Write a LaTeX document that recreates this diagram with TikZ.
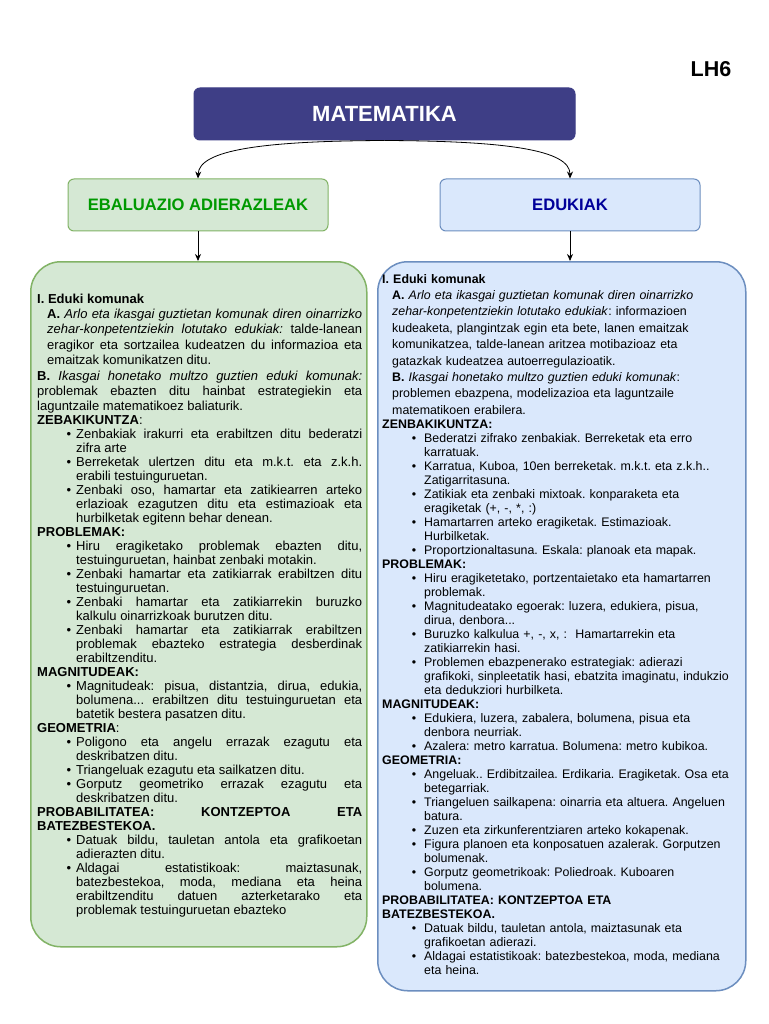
\documentclass[tikz,border=0pt]{standalone}
\usepackage{fontspec}
\setmainfont{Liberation Sans}
\usetikzlibrary{arrows.meta}
\definecolor{matfill}{RGB}{62,62,134}
\definecolor{gfill}{HTML}{D5E8D4}
\definecolor{gline}{HTML}{82B366}
\definecolor{bfill}{HTML}{DAE8FC}
\definecolor{bline}{HTML}{6C8EBF}
\definecolor{gtext}{HTML}{009900}
\definecolor{btext}{HTML}{000099}
\newcommand\itmL[1]{\par{\leftskip=39pt\noindent\llap{\textbullet\hspace{5pt}}#1\par}}
\newcommand\itmR[1]{\par{\leftskip=42pt\noindent\llap{\textbullet\hspace{8pt}}#1\par}}
\begin{document}
\frenchspacing
\begin{tikzpicture}[x=1pt,y=-1pt,
  hbox/.style={draw, rounded corners=6pt, minimum height=52pt, line width=1pt, inner sep=0pt},
  conn/.style={-{Stealth[length=7pt,width=6pt]}, line width=0.8pt, black},
  bigbox/.style={rounded corners=30pt, line width=1.5pt, inner sep=0pt}]
\useasboundingbox[fill=white] (0,0) rectangle (768,1024);
\node[font=\fontsize{21.5}{24}\selectfont\bfseries, anchor=base] (lh) at (711,77) {LH6};
\node[hbox, fill=matfill, draw=matfill, minimum width=381pt, text=white,
      font=\fontsize{22}{25}\selectfont\bfseries] (mat) at (384.5,114) {MATEMATIKA};
\node[hbox, fill=gfill, draw=gline, minimum width=260pt, text=gtext,
      font=\fontsize{16.6}{19}\selectfont\bfseries] (eva) at (198,205) {EBALUAZIO ADIERAZLEAK};
\node[hbox, fill=bfill, draw=bline, minimum width=260pt, text=btext,
      font=\fontsize{16.6}{19}\selectfont\bfseries] (edu) at (570,205) {EDUKIAK};
\node[bigbox, draw=gline, fill=gfill, minimum width=336pt, minimum height=685pt, anchor=north west] (lbox) at (30,261) {};
\node[bigbox, draw=bline, fill=bfill, minimum width=368pt, minimum height=729pt, anchor=north west] (rbox) at (377,261) {};
\draw[conn] (mat.south) .. controls (262,141) and (199,150) .. (eva.north);
\draw[conn] (mat.south) .. controls (507,141) and (570,150) .. (edu.north);
\draw[conn] (eva.south) -- (eva.south |- lbox.north);
\draw[conn] (edu.south) -- (edu.south |- rbox.north);
\node[anchor=base west, inner sep=0pt, text width=325pt, align=justify,
      font=\fontsize{13}{15.4}\selectfont] (ltext) at (37,303) {%
\textbf{I. Eduki komunak}\par
{\leftskip=10pt \textbf{A.} \textit{Arlo eta ikasgai guztietan komunak diren oinarrizko}\linebreak
\textit{zehar-konpetentziekin lotutako edukiak:} talde-lanean\linebreak
eragikor eta sortzailea kudeatzen du informazioa eta\linebreak
emaitzak komunikatzen ditu.\par}
\textbf{B.} \textit{Ikasgai honetako multzo guztien eduki komunak:}\linebreak
problemak ebazten ditu hainbat estrategiekin eta\linebreak
laguntzaile matematikoez baliaturik.\par
\fontsize{13}{14}\selectfont
\textbf{ZEBAKIKUNTZA}:\par
\itmL{Zenbakiak irakurri eta erabiltzen ditu bederatzi\linebreak zifra arte}
\itmL{Berreketak ulertzen ditu eta m.k.t. eta z.k.h.\linebreak erabili testuinguruetan.}
\itmL{Zenbaki oso, hamartar eta zatikiearren arteko\linebreak erlazioak ezagutzen ditu eta estimazioak eta\linebreak hurbilketak egitenn behar denean.}
\textbf{PROBLEMAK:}\par
\itmL{Hiru eragiketako problemak ebazten ditu,\linebreak testuinguruetan, hainbat zenbaki motakin.}
\itmL{Zenbaki hamartar eta zatikiarrak erabiltzen ditu\linebreak testuinguruetan.}
\itmL{Zenbaki hamartar eta zatikiarrekin buruzko\linebreak kalkulu oinarrizkoak burutzen ditu.}
\itmL{Zenbaki hamartar eta zatikiarrak erabiltzen\linebreak problemak ebazteko estrategia desberdinak\linebreak erabiltzenditu.}
\textbf{MAGNITUDEAK:}\par
\itmL{Magnitudeak: pisua, distantzia, dirua, edukia,\linebreak bolumena... erabiltzen ditu testuinguruetan eta\linebreak batetik bestera pasatzen ditu.}
\textbf{GEOMETRIA}:\par
\itmL{Poligono eta angelu errazak ezagutu eta\linebreak deskribatzen ditu.}
\itmL{Triangeluak ezagutu eta sailkatzen ditu.}
\itmL{Gorputz geometriko errazak ezagutu eta\linebreak deskribatzen ditu.}
\textbf{PROBABILITATEA: KONTZEPTOA ETA\linebreak BATEZBESTEKOA.}\par
\itmL{Datuak bildu, tauletan antola eta grafikoetan\linebreak adierazten ditu.}
\itmL{Aldagai estatistikoak: maiztasunak,\linebreak batezbestekoa, moda, mediana eta heina\linebreak erabiltzenditu datuen azterketarako eta\linebreak problemak testuinguruetan ebazteko}
};
\node[anchor=base west, inner sep=0pt, text width=365pt, align=left,
      font=\fontsize{12.4}{16.4}\selectfont] (rtext) at (382,283) {%
\textbf{I. Eduki komunak}\par
{\leftskip=10pt \textbf{A.} \textit{Arlo eta ikasgai guztietan komunak diren oinarrizko}\\
\textit{zehar-konpetentziekin lotutako edukiak}: informazioen\\
kudeaketa, plangintzak egin eta bete, lanen emaitzak\\
komunikatzea, talde-lanean aritzea motibazioaz eta\\
gatazkak kudeatzea autoerregulazioatik.\par
\textbf{B.} \textit{Ikasgai honetako multzo guztien eduki komunak}:\\
problemen ebazpena, modelizazioa eta laguntzaile\\
matematikoen erabilera.\par}
\fontsize{12.4}{14}\selectfont
\textbf{ZENBAKIKUNTZA:}\par
\itmR{Bederatzi zifrako zenbakiak. Berreketak eta erro\\ karratuak.}
\itmR{Karratua, Kuboa, 10en berreketak. m.k.t. eta z.k.h..\\ Zatigarritasuna.}
\itmR{Zatikiak eta zenbaki mixtoak. konparaketa eta\\ eragiketak (+, -, *, :)}
\itmR{Hamartarren arteko eragiketak. Estimazioak.\\ Hurbilketak.}
\itmR{Proportzionaltasuna. Eskala: planoak eta mapak.}
\textbf{PROBLEMAK:}\par
\itmR{Hiru eragiketetako, portzentaietako eta hamartarren\\ problemak.}
\itmR{Magnitudeatako egoerak: luzera, edukiera, pisua,\\ dirua, denbora...}
\itmR{Buruzko kalkulua +, -, x, :\ \ Hamartarrekin eta\\ zatikiarrekin hasi.}
\itmR{Problemen ebazpenerako estrategiak: adierazi\\ grafikoki, sinpleetatik hasi, ebatzita imaginatu, indukzio\\ eta dedukziori hurbilketa.}
\textbf{MAGNITUDEAK:}\par
\itmR{Edukiera, luzera, zabalera, bolumena, pisua eta\\ denbora neurriak.}
\itmR{Azalera: metro karratua. Bolumena: metro kubikoa.}
\textbf{GEOMETRIA:}\par
\itmR{Angeluak.. Erdibitzailea. Erdikaria. Eragiketak. Osa eta\\ betegarriak.}
\itmR{Triangeluen sailkapena: oinarria eta altuera. Angeluen\\ batura.}
\itmR{Zuzen eta zirkunferentziaren arteko kokapenak.}
\itmR{Figura planoen eta konposatuen azalerak. Gorputzen\\ bolumenak.}
\itmR{Gorputz geometrikoak: Poliedroak. Kuboaren\\ bolumena.}
\textbf{PROBABILITATEA: KONTZEPTOA ETA\\ BATEZBESTEKOA.}\par
\itmR{Datuak bildu, tauletan antola, maiztasunak eta\\ grafikoetan adierazi.}
\itmR{Aldagai estatistikoak: batezbestekoa, moda, mediana\\ eta heina.}
};
\end{tikzpicture}
\end{document}
